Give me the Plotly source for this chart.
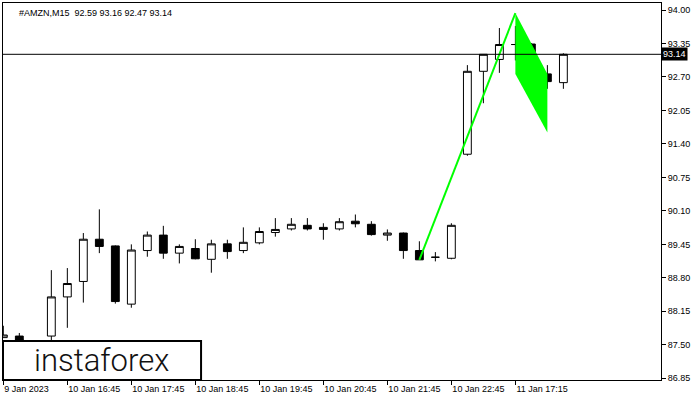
import plotly.graph_objects as go

# ---- data ----
bar_index = list(range(36))
opens = [87.64, 87.67, 87.52, 87.67, 88.43, 88.73, 89.55, 89.42, 88.29, 89.33,
         89.63, 89.28, 89.37, 89.16, 89.46, 89.33, 89.48, 89.68, 89.75, 89.82,
         89.78, 89.75, 89.90, 89.84, 89.63, 89.67, 89.33, 89.20, 89.18, 91.20,
         92.81, 93.04, 93.33, 93.34, 92.76, 92.59]
highs = [87.87, 87.73, 87.56, 88.95, 88.99, 89.67, 90.13, 89.43, 89.45, 89.70,
         89.81, 89.45, 89.55, 89.54, 89.54, 89.78, 89.78, 89.96, 89.96, 89.96,
         89.86, 89.96, 90.03, 89.90, 89.74, 89.68, 89.51, 89.30, 89.86, 92.93,
         93.14, 93.65, 93.69, 93.36, 92.93, 93.16]
lows = [87.64, 87.57, 87.25, 87.56, 87.83, 88.32, 89.28, 88.30, 88.22, 89.21,
        89.17, 89.08, 89.16, 88.90, 89.17, 89.28, 89.45, 89.60, 89.72, 89.72,
        89.54, 89.72, 89.78, 89.62, 89.52, 89.17, 89.15, 89.12, 89.16, 91.17,
        92.19, 92.78, 93.02, 92.39, 92.47, 92.47]
closes = [87.69, 87.59, 87.54, 88.43, 88.69, 89.55, 89.41, 88.34, 89.34, 89.63,
          89.28, 89.41, 89.17, 89.46, 89.31, 89.49, 89.70, 89.74, 89.84, 89.75,
          89.74, 89.89, 89.85, 89.64, 89.67, 89.33, 89.15, 89.20, 89.82, 92.81,
          93.14, 93.33, 93.33, 92.76, 92.61, 93.14]

x_tick_index = [0, 4, 8, 12, 16, 20, 24, 28, 32]
x_tick_labels = ["9 Jan 2023", "10 Jan 16:45", "10 Jan 17:45", "10 Jan 18:45",
                 "10 Jan 19:45", "10 Jan 20:45", "10 Jan 21:45", "10 Jan 22:45",
                 "11 Jan 17:15"]
y_ticks = [94.00, 93.35, 92.70, 92.05, 91.40, 90.75, 90.10, 89.45, 88.80,
           88.15, 87.50, 86.85]

pole_x = [26, 32]
pole_y = [89.15, 93.94]
flag_x = [32, 34, 34, 32]
flag_y = [93.94, 92.76, 91.62, 92.76]

symbol_title = "#AMZN,M15  92.59 93.16 92.47 93.14"
last_price = 93.14

FONT = "Liberation Sans, Arial, sans-serif"
GREEN = "#00FF00"

fig = go.Figure()

# flag body (behind candles)
fig.add_trace(go.Scatter(
    x=flag_x, y=flag_y, fill="toself", fillcolor=GREEN,
    mode="lines", line=dict(width=0, color=GREEN),
    hoverinfo="skip", showlegend=False))

fig.add_trace(go.Candlestick(
    x=bar_index, open=opens, high=highs, low=lows, close=closes,
    increasing=dict(fillcolor="white", line=dict(color="black", width=1)),
    decreasing=dict(fillcolor="black", line=dict(color="black", width=1)),
    whiskerwidth=0, showlegend=False))

# flag pole
fig.add_trace(go.Scatter(
    x=pole_x, y=pole_y, mode="lines",
    line=dict(color=GREEN, width=2),
    hoverinfo="skip", showlegend=False))

fig.update_layout(
    width=700, height=400,
    margin=dict(l=3, r=39, t=3, b=20),
    paper_bgcolor="white", plot_bgcolor="white",
    font=dict(family=FONT, size=9, color="black"),
    showlegend=False,
    xaxis=dict(
        range=[-0.02, 41.1], rangeslider=dict(visible=False),
        showgrid=False, zeroline=False,
        showline=True, mirror=True, linecolor="black", linewidth=1,
        tickmode="array", tickvals=x_tick_index, ticktext=x_tick_labels,
        ticks="outside", ticklen=4, tickcolor="black",
        ticklabelposition="outside right",
        tickfont=dict(family=FONT, size=9, color="black"),
    ),
    yaxis=dict(
        range=[86.817, 94.136], side="right",
        showgrid=False, zeroline=False,
        showline=True, mirror=True, linecolor="black", linewidth=1,
        tickmode="array", tickvals=y_ticks,
        ticktext=[f"{v:.2f}" for v in y_ticks],
        ticks="outside", ticklen=4, tickcolor="black",
        tickfont=dict(family=FONT, size=9, color="black"),
    ),
    shapes=[
        dict(type="line", xref="paper", x0=0, x1=1, yref="y",
             y0=last_price, y1=last_price, line=dict(color="black", width=1),
             layer="above"),
        dict(type="rect", xref="paper", yref="paper", x0=0, x1=0.301,
             y0=0, y1=0.1034, fillcolor="white",
             line=dict(color="black", width=2), layer="above"),
    ],
    annotations=[
        dict(text=symbol_title, xref="paper", yref="paper", x=0.021, y=0.974,
             xanchor="left", yanchor="middle", showarrow=False,
             font=dict(family=FONT, size=9, color="black")),
        dict(text=f"{last_price:.2f}", xref="paper", yref="y", x=1.0,
             y=last_price, xanchor="left", yanchor="middle", showarrow=False,
             bgcolor="black", borderpad=1,
             font=dict(family=FONT, size=9, color="white")),
        dict(text="instaforex", xref="paper", yref="paper", x=0.149, y=0.053,
             xanchor="center", yanchor="middle", showarrow=False,
             font=dict(family="Roboto, sans-serif", size=31, color="#111111",
                       weight=300)),
    ],
)

fig.write_html("out.html",
               config={"displayModeBar": False},
               post_script="document.body.style.margin='0';"
                           "document.body.style.overflow='hidden';")
